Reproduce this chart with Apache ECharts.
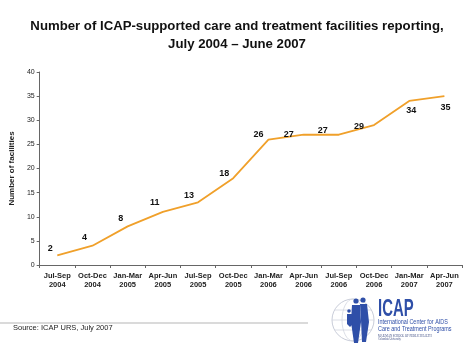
<!DOCTYPE html>
<html><head><meta charset="utf-8">
<script src="https://cdn.jsdelivr.net/npm/echarts@6/dist/echarts.min.js"></script>
<style>html,body{margin:0;padding:0;background:#fff}#c{width:474px;height:355px}</style>
</head><body><div id="c"></div>
<script>
const categories = ['Jul-Sep\n2004','Oct-Dec\n2004','Jan-Mar\n2005','Apr-Jun\n2005','Jul-Sep\n2005','Oct-Dec\n2005','Jan-Mar\n2006','Apr-Jun\n2006','Jul-Sep\n2006','Oct-Dec\n2006','Jan-Mar\n2007','Apr-Jun\n2007'];
const facilities = [2,4,8,11,13,18,26,27,27,29,34,35];
const yTicks = {min:0, max:40, interval:5};

// label placement style (offset from point)
const labelOffsets = [[-7,-7],[-8,-8],[-7,-8],[-8,-9],[-9,-7],[-9,-5],[-10,-5],[-15,0],[-16,-4],[-15,1],[2,10],[1,11]];

const chart = echarts.init(document.getElementById('c'));
const FONT = '"Liberation Sans", Arial, sans-serif';
chart.setOption({
  animation:false,
  textStyle:{fontFamily:FONT},
  title:{
    text:'Number of ICAP-supported care and treatment facilities reporting,\nJuly 2004 \u2013 June 2007',
    left:'center', top:12,
    textStyle:{fontSize:13.2, fontWeight:'bold', color:'#111', lineHeight:18, fontFamily:FONT}
  },
  grid:{left:35, right:12, top:72, bottom:90},
  xAxis:{
    type:'category', data:categories, boundaryGap:true,
    axisLine:{lineStyle:{color:'#666', width:1}},
    axisTick:{show:true, length:3, lineStyle:{color:'#666'}},
    axisLabel:{fontSize:7.5, fontWeight:'bold', color:'#222', lineHeight:9, margin:6, interval:0}
  },
  yAxis:{
    type:'value', min:yTicks.min, max:yTicks.max, interval:yTicks.interval,
    name:'Number of facilities', nameLocation:'middle', nameGap:20,
    nameTextStyle:{fontSize:8, fontWeight:'bold', color:'#222'},
    axisLine:{show:true, lineStyle:{color:'#666'}},
    axisTick:{show:true, length:3, lineStyle:{color:'#666'}},
    axisLabel:{fontSize:7, color:'#222', margin:5},
    splitLine:{show:false}
  },
  series:[{
    type:'line',
    data:facilities.map((v,i)=>({value:v, label:{offset:labelOffsets[i]}})),
    showSymbol:true, symbol:'circle', symbolSize:1,
    itemStyle:{color:'rgba(0,0,0,0)'},
    lineStyle:{color:'#F0A02A', width:1.8},
    label:{show:true, position:'inside', fontSize:9, fontWeight:'bold', color:'#111'}
  }],
  graphic:[
    {type:'line', shape:{x1:0,y1:323,x2:308,y2:323}, style:{stroke:'#b5b5b5', lineWidth:1}},
    {type:'text', left:13, top:324, style:{text:'Source: ICAP URS, July 2007', fontSize:7.5, fill:'#222', fontFamily:FONT}},
    // logo globe
    {type:'circle', shape:{cx:353,cy:320,r:21}, style:{fill:'none', stroke:'#c8ccd8', lineWidth:1}},
    {type:'ellipse', shape:{cx:353,cy:320,rx:11,ry:21}, style:{fill:'none', stroke:'#d2d6e0', lineWidth:0.8}},
    {type:'line', shape:{x1:332,y1:320,x2:374,y2:320}, style:{stroke:'#d2d6e0', lineWidth:0.8}},
    {type:'line', shape:{x1:335,y1:310,x2:371,y2:310}, style:{stroke:'#d2d6e0', lineWidth:0.8}},
    {type:'line', shape:{x1:335,y1:330,x2:371,y2:330}, style:{stroke:'#d2d6e0', lineWidth:0.8}},
    // figures
    {type:'circle', shape:{cx:356,cy:301,r:2.6}, style:{fill:'#2f4fa8'}},
    {type:'circle', shape:{cx:363,cy:300,r:2.6}, style:{fill:'#2f4fa8'}},
    {type:'polygon', shape:{points:[[352,305],[360,305],[361,322],[358,343],[354,343],[351,322]]}, style:{fill:'#2f4fa8'}},
    {type:'polygon', shape:{points:[[360,304],[367,304],[369,322],[366,342],[362,342],[361,320]]}, style:{fill:'#2f4fa8'}},
    {type:'circle', shape:{cx:349,cy:311,r:1.8}, style:{fill:'#2f4fa8'}},
    {type:'polygon', shape:{points:[[347,314],[352,314],[353,324],[350,327],[347,324]]}, style:{fill:'#2f4fa8'}},
    // ICAP text
    {type:'text', x:378, y:297, scaleX:0.62, style:{text:'ICAP', fontSize:24, fontWeight:'bold', fill:'#2f4fa8', fontFamily:FONT}},
    {type:'text', x:378, y:319, scaleX:0.8, style:{text:'International Center for AIDS', fontSize:6.8, fill:'#2f4fa8', fontFamily:FONT}},
    {type:'text', x:378, y:326, scaleX:0.8, style:{text:'Care and Treatment Programs', fontSize:6.8, fill:'#2f4fa8', fontFamily:FONT}},
    {type:'text', x:378, y:334, scaleX:0.8, style:{text:'MAILMAN SCHOOL OF PUBLIC HEALTH', fontSize:3.6, fill:'#3a4a80', fontFamily:'"Liberation Serif", serif'}},
    {type:'text', x:378, y:338, scaleX:0.8, style:{text:'Columbia University', fontSize:3.4, fill:'#3a4a80', fontFamily:'"Liberation Serif", serif'}}
  ]
});
</script></body></html>
